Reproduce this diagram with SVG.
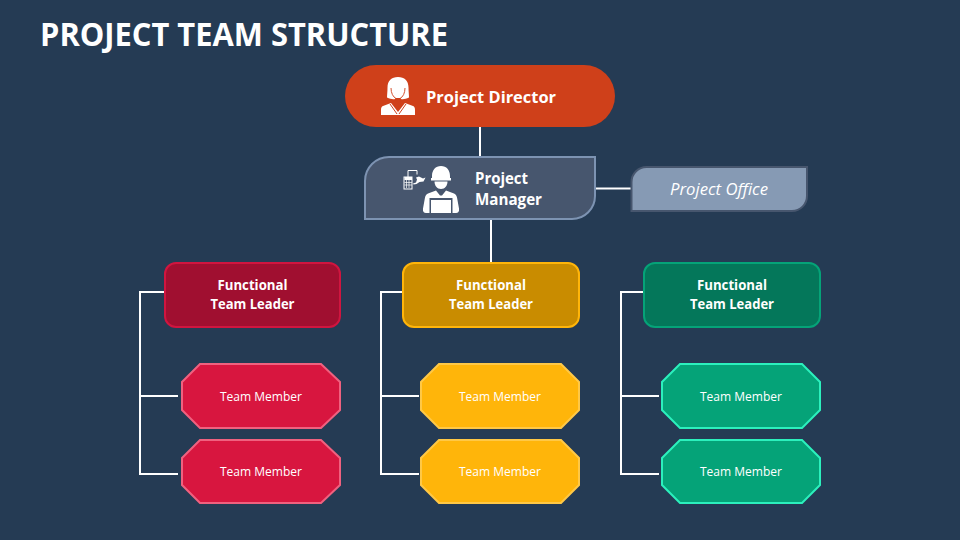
<svg xmlns="http://www.w3.org/2000/svg" width="960" height="540" viewBox="0 0 960 540">
<style>
text{font-family:"Open Sans","Liberation Sans",sans-serif;fill:#fff;text-anchor:middle}
.b{font-weight:700}
.l{font-size:14px;font-weight:700}
.m{font-size:12.5px;font-weight:500}
.n{font-size:16px;font-weight:700}
.c{fill:none;stroke:#fff;stroke-width:2}
.w{fill:#fff}
.ws{fill:none;stroke:#fff}
.red{fill:#d8163f;stroke:#f0617f;stroke-width:2}
.yel{fill:#ffb50a;stroke:#ffc846;stroke-width:2}
.grn{fill:#05a378;stroke:#2cf0bd;stroke-width:2}
</style>
<rect width="960" height="540" fill="#253b54"/>
<text class="b" x="40" y="46" font-size="32" style="text-anchor:start" textLength="408" lengthAdjust="spacingAndGlyphs">PROJECT TEAM STRUCTURE</text>
<g id="connectors" class="c">
<path d="M480 127V157"/>
<path d="M491 220V263"/>
<path d="M595 188.500H631"/>
<path d="M164 292H140V474H178M140 396H178"/>
<path d="M403 292H381V474H419M381 396H419"/>
<path d="M644 292H621V474H659M621 396H659"/>
</g>
<g id="director">
<rect x="345" y="65" width="270" height="62" rx="31" fill="#cf401a"/>
<g id="director-icon">
<path class="w" d="M398 77c-6.500 0-10.500 4-10.500 10.500 0 4-.5 7.500-.5 10 3 1.500 6 2 8 1.500l.5-1h5l.5 1c2 .5 5 0 8-1.500 0-2.500-.5-6-.5-10C408.500 81 404.500 77 398 77z"/>
<path fill="none" stroke="#cf401a" stroke-width=".9" d="M391 88c0 5 2 9 5 10.500h4c3-1.500 5-5.500 5-10.500"/>
<path class="w" d="M391 103l-8 3c-1.500.6-2 2-2 4v5h34v-5c0-2-.5-3.400-2-4l-8-3-7 9z"/>
<path fill="none" stroke="#cf401a" d="M390 104l7 10M406 104l-7 10"/>
</g>
<text class="n" x="491" y="102.500" textLength="130" lengthAdjust="spacingAndGlyphs">Project Director</text>
</g>
<g id="manager">
<path d="M389 157H595V196a23 23 0 0 1-23 23H365V181a24 24 0 0 1 24-24z" fill="#47566e" stroke="#7d93b2" stroke-width="2"/>
<g id="manager-icon">
<path class="w" d="M432 176c0-6 3.500-10 9-10s9 4 9 10v2h1v2.500h-20V178h1z"/>
<path class="w" d="M434.500 181.500h13c0 4-2.500 7.500-6.500 7.500s-6.500-3.500-6.500-7.500z"/>
<path class="w" d="M436 190.500l-8 3c-2 1-2.500 2-3 4l-2 11c-.5 3 1 4.500 3 4.500h30c2 0 3.500-1.500 3-4.500l-2-11c-.5-2-1-3-3-4l-8-3-4 5h-2z"/>
<path fill="#47566e" d="M429.500 198h23v15h-23z"/>
<rect x="431" y="200" width="20" height="13" class="w"/>
<rect x="404" y="177" width="8" height="12" fill="#47566e" stroke="#fff"/>
<path class="w" d="M404.500 177h7.500v3h-7.500z"/>
<path stroke="#fff" stroke-width=".7" d="M406.500 180v8M409 180v8M404.500 182.500h7.500M404.500 185h7.500"/>
<path class="ws" d="M408 177v-6.500h9v4"/>
<path class="w" d="M413 183.500l3-1 1-3-1-2 3-1 4 2 2.500-1-2 4-4 .5-3 2-3 .5z"/>
</g>
<text class="n" x="475" y="183.500" style="text-anchor:start" textLength="53" lengthAdjust="spacingAndGlyphs">Project</text>
<text class="n" x="475" y="204.500" style="text-anchor:start" textLength="67" lengthAdjust="spacingAndGlyphs">Manager</text>
</g>
<g id="office">
<path d="M647 167H807V196a15 15 0 0 1-15 15H631.500V182a15 15 0 0 1 15.500-15z" fill="#869ab4" stroke="#47566e" stroke-width="2"/>
<text x="719" y="194.500" font-size="16" font-weight="500" font-style="italic" textLength="98" lengthAdjust="spacingAndGlyphs">Project Office</text>
</g>
<g id="leader-red">
<rect x="165" y="263" width="175" height="64" rx="11" fill="#a00f30" stroke="#d0153f" stroke-width="2"/>
<text class="l" x="252.500" y="290" textLength="70" lengthAdjust="spacingAndGlyphs">Functional</text><text class="l" x="252.500" y="309" textLength="84" lengthAdjust="spacingAndGlyphs">Team Leader</text>
</g>
<g id="member-red-1">
<polygon class="red" points="200,364 321,364 340,382 340,410 321,428 200,428 182,410 182,382"/>
<text class="m" x="261" y="401" textLength="82" lengthAdjust="spacingAndGlyphs">Team Member</text>
</g>
<g id="member-red-2">
<polygon class="red" points="200,440 321,440 340,458 340,485 321,503 200,503 182,485 182,458"/>
<text class="m" x="261" y="476" textLength="82" lengthAdjust="spacingAndGlyphs">Team Member</text>
</g>
<g id="leader-yellow">
<rect x="403" y="263" width="176" height="64" rx="11" fill="#c98c00" stroke="#ffb50a" stroke-width="2"/>
<text class="l" x="491" y="290" textLength="70" lengthAdjust="spacingAndGlyphs">Functional</text><text class="l" x="491" y="309" textLength="84" lengthAdjust="spacingAndGlyphs">Team Leader</text>
</g>
<g id="member-yellow-1">
<polygon class="yel" points="439,364 561,364 579,382 579,410 561,428 439,428 421,410 421,382"/>
<text class="m" x="500" y="401" textLength="82" lengthAdjust="spacingAndGlyphs">Team Member</text>
</g>
<g id="member-yellow-2">
<polygon class="yel" points="439,440 561,440 579,458 579,485 561,503 439,503 421,485 421,458"/>
<text class="m" x="500" y="476" textLength="82" lengthAdjust="spacingAndGlyphs">Team Member</text>
</g>
<g id="leader-green">
<rect x="644" y="263" width="176" height="64" rx="11" fill="#04775a" stroke="#05a378" stroke-width="2"/>
<text class="l" x="732" y="290" textLength="70" lengthAdjust="spacingAndGlyphs">Functional</text><text class="l" x="732" y="309" textLength="84" lengthAdjust="spacingAndGlyphs">Team Leader</text>
</g>
<g id="member-green-1">
<polygon class="grn" points="680,364 802,364 820,382 820,410 802,428 680,428 662,410 662,382"/>
<text class="m" x="741" y="401" textLength="82" lengthAdjust="spacingAndGlyphs">Team Member</text>
</g>
<g id="member-green-2">
<polygon class="grn" points="680,440 802,440 820,458 820,485 802,503 680,503 662,485 662,458"/>
<text class="m" x="741" y="476" textLength="82" lengthAdjust="spacingAndGlyphs">Team Member</text>
</g>
</svg>
